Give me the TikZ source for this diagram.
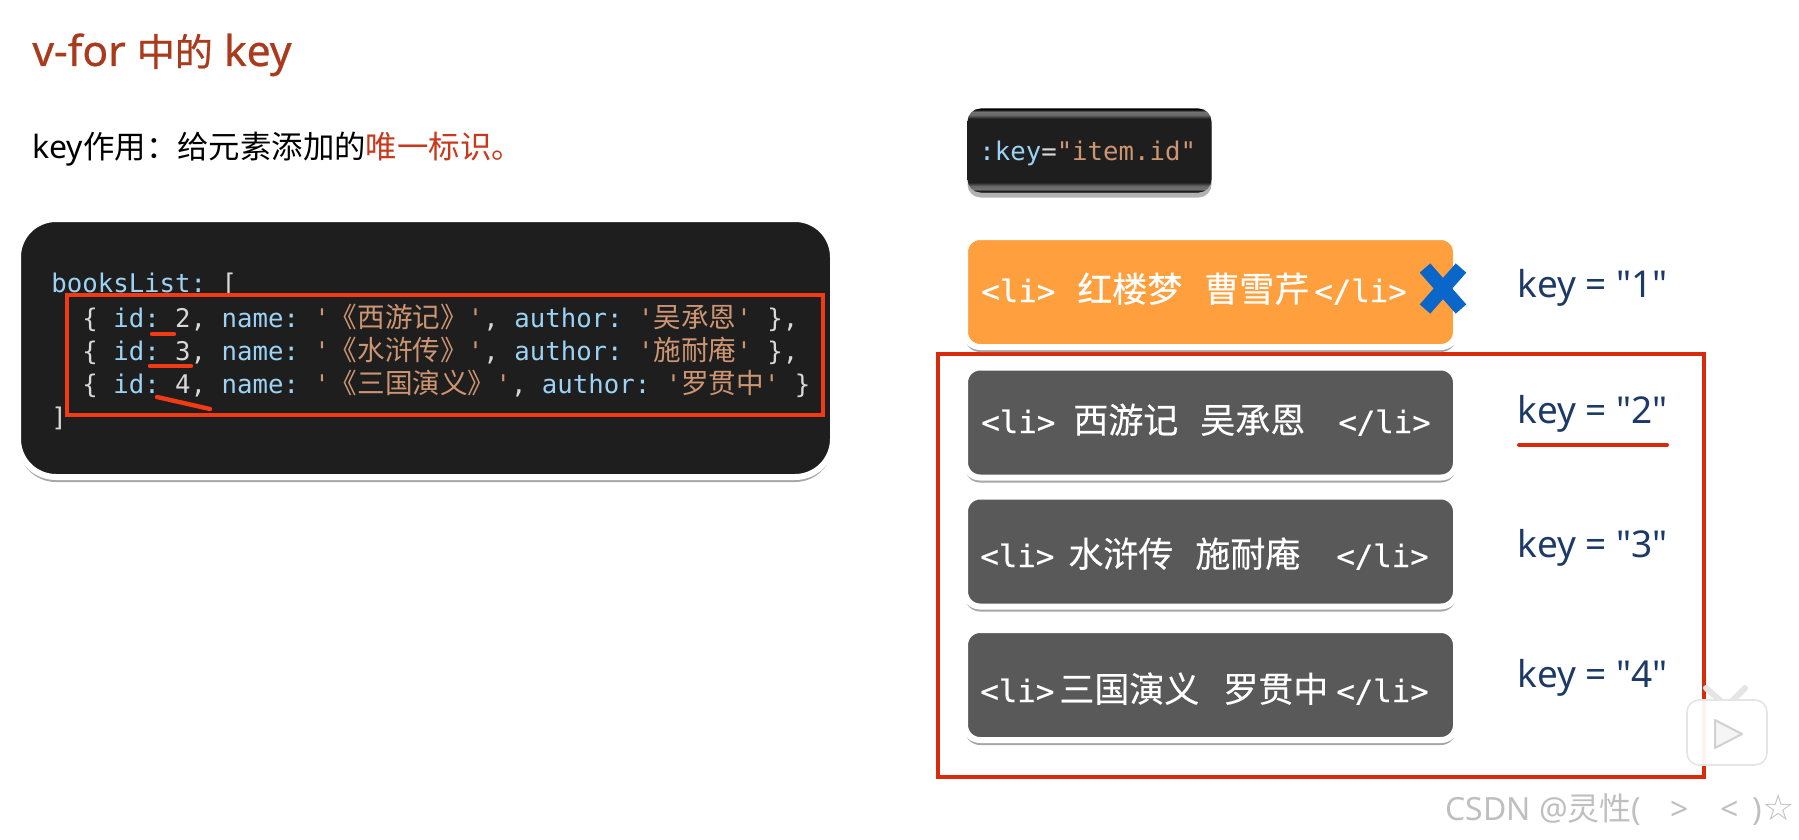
\documentclass[tikz,border=0pt]{standalone}
\usepackage{fontspec}
\setmainfont{Noto Sans}
\setmonofont{DejaVu Sans Mono}
\newfontfamily\cjk{Noto Sans CJK SC}
\newfontfamily\starfont{DejaVu Sans}
\newfontfamily\plainsans{Noto Sans}[Ligatures=TeXOff]
\newfontfamily\titlefont{Noto Sans}[FakeBold=0.6]
\newfontfamily\titlecjk{Noto Sans CJK SC}[FakeBold=0.6]
\newfontfamily\limono{DejaVu Sans Mono}[FakeBold=0.3]
\newfontfamily\licjk{Noto Sans CJK SC}[FakeBold=0.3]
\usetikzlibrary{calc,shadows}
\definecolor{titlered}{HTML}{A93A1C}
\definecolor{markred}{HTML}{C8381A}
\definecolor{framered}{HTML}{D92B0C}
\definecolor{penred}{HTML}{F23A15}
\definecolor{codebg}{HTML}{1E1E1E}
\definecolor{codeblue}{HTML}{9CD3F5}
\definecolor{codestr}{HTML}{CE9572}
\definecolor{codepunc}{HTML}{D8D8D8}
\definecolor{liorange}{HTML}{FF9F3E}
\definecolor{ligrey}{HTML}{595959}
\definecolor{keynavy}{HTML}{1D3A66}
\definecolor{crossblue}{HTML}{0A66C8}
\pgfdeclareverticalshading{keybevel}{100bp}{color(0bp)=(black); color(25.5bp)=(black); color(27bp)=(black!55); color(29bp)=(black!60);
    color(31bp)=(codebg); color(69bp)=(codebg); color(71bp)=(black!60); color(73bp)=(black!55); color(74.5bp)=(black); color(100bp)=(black)}
\newcommand{\codefont}{\ttfamily\fontsize{12.85pt}{15pt}\selectfont}
\newcommand{\zhcode}[1]{{\cjk\fontsize{13.8pt}{15pt}\selectfont\color{codestr}#1}}
\newcommand{\ckey}[1]{{\color{codeblue}#1}}
\newcommand{\cstr}[1]{{\color{codestr}#1}}
\newcommand{\zhli}[1]{{\licjk\fontsize{17.5pt}{20pt}\selectfont #1}}
\tikzset{
    halo box/.style={draw=white, line width=3pt, inner sep=0pt,
        drop shadow={shadow xshift=0pt, shadow yshift=-2.5pt, fill=black!35, opacity=1}},
    code box/.style={halo box, fill=codebg, rounded corners=19pt, minimum width=407.5pt, minimum height=129pt},
    li box/.style={halo box, rounded corners=7.5pt, minimum width=245.5pt, minimum height=55pt},
    red frame/.style={draw=#1, line width=2.4pt, fill=none, inner sep=0pt},
    code line/.style={anchor=base west, inner sep=0pt, text=codepunc, font=\codefont},
    li text/.style={anchor=base west, inner sep=0pt, text=white, font=\limono\fontsize{15.35pt}{18pt}\selectfont},
    key label/.style={anchor=base west, inner sep=0pt, text=keynavy, font=\plainsans\fontsize{18.5pt}{22pt}\selectfont},
    pen stroke/.style={draw=penred, line width=2.2pt, line cap=round},
}

\begin{document}
\begin{tikzpicture}[x=0.5pt,y=-0.5pt]
    \useasboundingbox (0,0) rectangle (1799,840);

    \node (title) at (32,66) [anchor=base west, inner sep=0pt, text=titlered, font=\titlefont\fontsize{21.3pt}{24pt}\selectfont]
        {v-for {\titlecjk\fontsize{19pt}{24pt}\selectfont 中的} key};
    \node (intro) at (32,158) [anchor=base west, inner sep=0pt, font=\fontsize{16pt}{20pt}\selectfont]
        {key{\cjk\fontsize{15.7pt}{20pt}\selectfont 作用：给元素添加的\textcolor{markred}{唯一标识。}}};

    % code block
    \node (codeBox) at (425.5,348) [code box] {};
    \node (line0) at (51,292) [code line] {\ckey{booksList:} [};
    \node (line1) at (82,327) [code line] {\{ \ckey{id:} 2, \ckey{name:} \cstr{'}\zhcode{《西游记》}\cstr{'}, \ckey{author:} \cstr{'}\zhcode{吴承恩}\cstr{'} \},};
    \node (line2) at (82,360) [code line] {\{ \ckey{id:} 3, \ckey{name:} \cstr{'}\zhcode{《水浒传》}\cstr{'}, \ckey{author:} \cstr{'}\zhcode{施耐庵}\cstr{'} \},};
    \node (line3) at (82,393) [code line] {\{ \ckey{id:} 4, \ckey{name:} \cstr{'}\zhcode{《三国演义》}\cstr{'}, \ckey{author:} \cstr{'}\zhcode{罗贯中}\cstr{'} \}};
    \node (line4) at (51,426) [code line] {]};
    \node (codeFrame) at (445,355) [red frame=penred, minimum width=378pt, minimum height=60pt] {};

    \coordinate (P1) at (152,334);
    \coordinate (P2) at (174,334);
    \coordinate (P3) at (150,366);
    \coordinate (P4) at (191,366);
    \coordinate (P5) at (157,397);
    \coordinate (P6) at (210,409);
    \draw [pen stroke] (P1) -- (P2);
    \draw [pen stroke] (P3) -- (P4);
    \draw [pen stroke] (P5) -- (P6);

    % right column
    \node (keyBox) at (1089.5,150.5) [shading=keybevel, rounded corners=6.5pt,
        minimum width=122pt, minimum height=42pt, inner sep=0pt,
        drop shadow={shadow xshift=0pt, shadow yshift=-2.5pt, fill=black!30, opacity=1}] {};
    \node (keyText) at (979,161) [code line] {\ckey{:key}=\cstr{"item.id"}};

    \node (listFrame) at (1321,565.5) [red frame=framered, minimum width=383pt, minimum height=211.5pt] {};

    \node (liOne) at (1210.5,292) [li box, fill=liorange] {};
    \node (liTwo) at (1210.5,422.5) [li box, fill=ligrey] {};
    \node (liThree) at (1210.5,551.5) [li box, fill=ligrey] {};
    \node (liFour) at (1210.5,685) [li box, fill=ligrey] {};

    \node (textOne) at (981,302) [li text] {<li>\hspace{11pt}\zhli{红楼梦}\hspace{11pt}\zhli{曹雪芹}\hspace{2.5pt}</li>};
    \node (textTwo) at (981,433) [li text] {<li>\hspace{9pt}\zhli{西游记}\hspace{11pt}\zhli{吴承恩}\hspace{16.5pt}</li>};
    \node (textThree) at (980,567) [li text] {<li>\hspace{7pt}\zhli{水浒传}\hspace{11pt}\zhli{施耐庵}\hspace{18pt}</li>};
    \node (textFour) at (980,702) [li text] {<li>\hspace{2.5pt}\zhli{三国演义}\hspace{12pt}\zhli{罗贯中}\hspace{4pt}</li>};

    \coordinate (X1) at (1425,268);
    \coordinate (X2) at (1461,309);
    \coordinate (X3) at (1461,268);
    \coordinate (X4) at (1425,309);
    \draw [crossblue, line width=7pt] (X1) -- (X2);
    \draw [crossblue, line width=7pt] (X3) -- (X4);

    \node (keyOne) at (1517,297) [key label] {key = "1"};
    \node (keyTwo) at (1517,423) [key label] {key = "2"};
    \node (keyThree) at (1517,557) [key label] {key = "3"};
    \node (keyFour) at (1517,687) [key label] {key = "4"};
    \coordinate (U1) at (1519,445);
    \coordinate (U2) at (1667,445);
    \draw [framered, line width=2pt, line cap=round] (U1) -- (U2);

    % player badge and watermark
    \coordinate (E1) at (1706,688);
    \coordinate (E2) at (1722,702);
    \coordinate (E3) at (1745,688);
    \coordinate (E4) at (1731,702);
    \draw [black!10, line width=3pt, line cap=round] (E1) -- (E2);
    \draw [black!10, line width=3pt, line cap=round] (E3) -- (E4);
    \node (badge) at (1727,732.5) [fill=white, fill opacity=.95, draw=black!10, line width=.8pt, rounded corners=6pt,
        minimum width=40pt, minimum height=32.5pt, inner sep=0pt] {};
    \coordinate (T1) at (1715,720);
    \coordinate (T2) at (1715,748);
    \coordinate (T3) at (1742,734);
    \draw [black!18, fill=black!4, line width=1pt, line join=round] (T1) -- (T2) -- (T3) -- cycle;

    \node (mark) at (1445,820) [anchor=base west, inner sep=0pt, text=black!25, font=\fontsize{16pt}{20pt}\selectfont]
        {CSDN @{\cjk 灵性}(\hspace{14.6pt}>\hspace{15.7pt}<\hspace{7pt}){\starfont\fontsize{18pt}{20pt}\selectfont ☆}};
\end{tikzpicture}
\end{document}
